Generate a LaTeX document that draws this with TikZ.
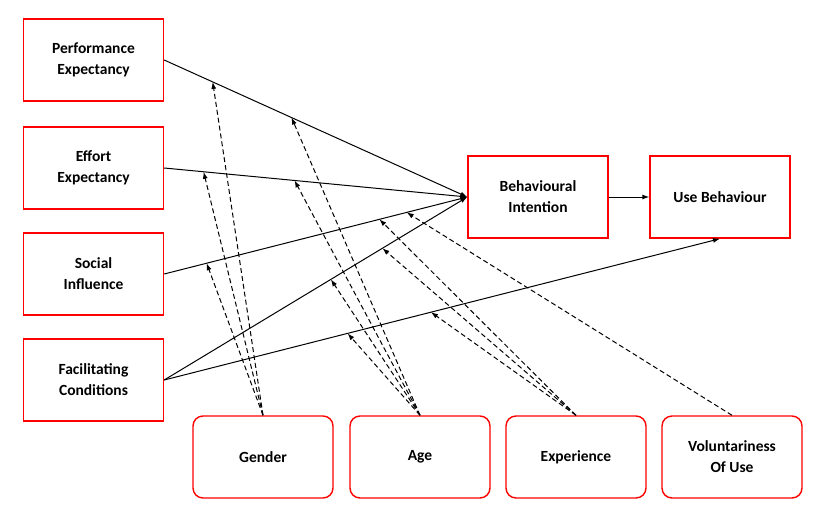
\documentclass[tikz,border=0pt]{standalone}
\usepackage{fontspec}
\setmainfont{Carlito}
\usetikzlibrary{arrows.meta}
\begin{document}
\begin{tikzpicture}[x=1pt,y=-1pt,
 box/.style={draw=red,line width=1.4pt,minimum width=140pt,minimum height=82pt,align=center,font=\fontsize{15.5}{21}\selectfont\bfseries,inner sep=0pt},
 rbox/.style={box,rounded corners=10pt},
 sol/.style={-{Latex[length=7pt,width=5pt]},line width=1pt},
 dsh/.style={-{Latex[length=7pt,width=5pt]},line width=1pt,dash pattern=on 5pt off 3pt}]
\useasboundingbox (0,0) rectangle (834,522);
\node[box] (pe) at (93.5,60) {Performance\\Expectancy};
\node[box] (ee) at (93.5,168) {Effort\\Expectancy};
\node[box] (si) at (93.5,274) {Social\\Influence};
\node[box] (fc) at (93.5,380) {Facilitating\\Conditions};
\node[box] (bi) at (538,197) {Behavioural\\Intention};
\node[box] (ub) at (720,197) {Use Behaviour};
\node[rbox] (g) at (263,457) {Gender};
\node[rbox] (a) at (420,457) {Age};
\node[rbox] (e) at (576,457) {Experience};
\node[rbox] (v) at (732,457) {Voluntariness\\Of Use};
\draw[sol] (pe.east) -- coordinate[pos=.16](pe1) coordinate[pos=.42](pe2) (bi.west);
\draw[sol] (ee.east) -- coordinate[pos=.13](ee1) coordinate[pos=.43](ee2) (bi.west);
\draw[sol] (si.east) -- coordinate[pos=.14](si1) coordinate[pos=.71](si2) coordinate[pos=.80](si3) (bi.west);
\draw[sol] (fc.east) -- coordinate[pos=.55](fc1) coordinate[pos=.72](fc2) (bi.west);
\draw[sol] (fc.east) -- coordinate[pos=.33](fu1) coordinate[pos=.48](fu2) (ub.south);
\draw[sol] (bi) -- (ub);
\foreach \t in {pe1,ee1,si1} \draw[dsh] (g.north) -- (\t);
\foreach \t in {pe2,ee2,fc1,fu1} \draw[dsh] (a.north) -- (\t);
\foreach \t in {si2,fc2,fu2} \draw[dsh] (e.north) -- (\t);
\draw[dsh] (v.north) -- (si3);
\end{tikzpicture}
\end{document}
